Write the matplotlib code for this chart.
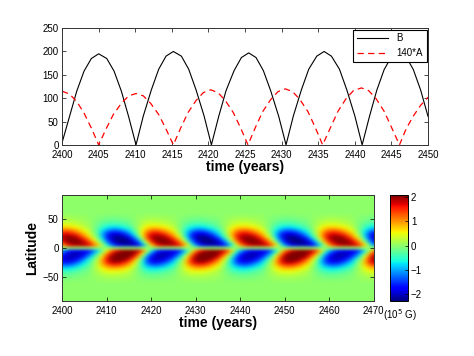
import numpy as np
import matplotlib
matplotlib.use("Agg")
import matplotlib.pyplot as plt

plt.rcParams['font.family'] = ['Liberation Sans', 'DejaVu Sans']

# ---- top panel: B and 140*A against time ----
b_years = [2400.0, 2401.0, 2402.0, 2403.0, 2404.0, 2405.0, 2406.1, 2407.1, 2408.1, 2409.1, 2410.1,
           2411.1, 2412.2, 2413.2, 2414.2, 2415.2, 2416.3, 2417.3, 2418.3, 2419.4, 2420.4,
           2421.4, 2422.4, 2423.5, 2424.5, 2425.5, 2426.5, 2427.5, 2428.5, 2429.6, 2430.6,
           2431.6, 2432.7, 2433.7, 2434.8, 2435.8, 2436.8, 2437.9, 2438.9, 2440.0, 2441.0,
           2442.0, 2443.0, 2444.0, 2445.0, 2446.0, 2447.0, 2448.0, 2449.0, 2450.0]
b_vals = [5, 60, 115, 158, 185, 195, 185, 158, 115, 60, 0,
          62, 118, 162, 190, 200, 190, 162, 118, 62, 0,
          61, 116, 159, 187, 197, 187, 159, 116, 61, 0,
          62, 118, 162, 190, 200, 190, 162, 118, 62, 0,
          61, 117, 161, 189, 199, 189, 161, 117, 61]

a_years = [2400.0, 2401.0, 2402.0, 2403.0, 2404.0, 2405.0,
           2406.0, 2407.0, 2408.1, 2409.1, 2410.1, 2411.1, 2412.1, 2413.2, 2414.2, 2415.2,
           2416.2, 2417.2, 2418.3, 2419.3, 2420.3, 2421.3, 2422.3, 2423.4, 2424.4, 2425.4,
           2426.4, 2427.4, 2428.5, 2429.5, 2430.5, 2431.5, 2432.5, 2433.6, 2434.6, 2435.6,
           2436.7, 2437.7, 2438.8, 2439.8, 2440.9, 2441.9, 2442.9, 2444.0, 2445.0, 2446.1,
           2447.0, 2448.0, 2449.0, 2450.0]
a_vals = [115, 109, 93, 68, 36, 0,
          34, 65, 89, 105, 110, 105, 89, 65, 34, 0,
          36, 69, 95, 112, 118, 112, 95, 69, 36, 0,
          37, 71, 97, 114, 120, 114, 97, 71, 37, 0,
          38, 72, 99, 116, 122, 116, 99, 72, 38, 0,
          34, 62, 85, 102]

# ---- bottom panel: butterfly diagram ----
# one northern wing, normalised
# rows: latitude 0..55 step 5, columns: years from wing centre -7..7
wing_dt = list(range(-7, 8))
wing_lat = list(range(0, 60, 5))
wing_shape = [
    [0.00, 0.00, 0.00, 0.00, 0.00, 0.00, 0.00, 0.00, 0.00, 0.00, 0.00, 0.00, 0.00, 0.00, 0.00],
    [0.00, 0.00, 0.08, 0.25, 0.50, 0.70, 0.82, 0.88, 0.90, 0.88, 0.80, 0.62, 0.38, 0.15, 0.04],
    [0.00, 0.04, 0.18, 0.45, 0.72, 0.90, 0.98, 1.00, 0.97, 0.88, 0.70, 0.45, 0.20, 0.07, 0.00],
    [0.02, 0.10, 0.32, 0.62, 0.85, 0.97, 1.00, 0.98, 0.90, 0.74, 0.50, 0.28, 0.10, 0.03, 0.00],
    [0.05, 0.15, 0.40, 0.68, 0.87, 0.95, 0.94, 0.87, 0.72, 0.52, 0.32, 0.15, 0.05, 0.01, 0.00],
    [0.07, 0.18, 0.40, 0.62, 0.76, 0.80, 0.76, 0.66, 0.52, 0.36, 0.21, 0.10, 0.04, 0.00, 0.00],
    [0.07, 0.16, 0.32, 0.46, 0.55, 0.58, 0.54, 0.46, 0.35, 0.24, 0.14, 0.06, 0.02, 0.00, 0.00],
    [0.06, 0.12, 0.22, 0.30, 0.35, 0.36, 0.33, 0.28, 0.21, 0.14, 0.08, 0.04, 0.01, 0.00, 0.00],
    [0.04, 0.08, 0.14, 0.19, 0.21, 0.21, 0.19, 0.16, 0.12, 0.08, 0.05, 0.02, 0.00, 0.00, 0.00],
    [0.03, 0.05, 0.08, 0.11, 0.12, 0.12, 0.11, 0.09, 0.07, 0.05, 0.03, 0.01, 0.00, 0.00, 0.00],
    [0.01, 0.03, 0.04, 0.06, 0.06, 0.06, 0.06, 0.05, 0.04, 0.03, 0.01, 0.00, 0.00, 0.00, 0.00],
    [0.00, 0.01, 0.02, 0.03, 0.03, 0.03, 0.03, 0.02, 0.02, 0.01, 0.00, 0.00, 0.00, 0.00, 0.00],
]
# centre year and peak field (10^5 G) of each northern wing
wing_year = [2393, 2403, 2414, 2423, 2433, 2443, 2453, 2463, 2473]
wing_amp = [-2.2, 2.05, -2.25, 2.05, -2.25, 2.05, -2.25, 2.05, -2.25]

grid_years = np.arange(2400, 2471)
north = np.zeros((19, len(grid_years)))     # latitudes 0..90
shape = np.array(wing_shape)
for yr, amp in zip(wing_year, wing_amp):
    for k, dt in enumerate(wing_dt):
        col = yr + dt - grid_years[0]
        if 0 <= col < len(grid_years):
            north[:len(wing_lat), col] += amp * shape[:, k]
field = np.vstack([-north[:0:-1], north])   # south is antisymmetric

# ====================================================================
fig = plt.figure(figsize=(4.74, 3.56), dpi=100)

ax1 = fig.add_axes([0.131, 0.593, 0.772, 0.328])
ax1.plot(b_years, b_vals, color='k', lw=0.8, label='B')
ax1.plot(a_years, a_vals, color='r', lw=0.9, dashes=(5, 3.5), label='140*A')
ax1.set_xlim(2400, 2450)
ax1.set_ylim(0, 250)
ax1.set_xticks(np.arange(2400, 2451, 5))
ax1.set_yticks(np.arange(0, 251, 50))
ax1.set_xlabel('time (years)', fontsize=10, fontweight='bold', labelpad=0)
leg = ax1.legend(loc='upper right', fontsize=7, fancybox=False, framealpha=1,
                 edgecolor='k', borderaxespad=0.15, handlelength=3.2)
leg.get_frame().set_linewidth(0.8)

ax2 = fig.add_axes([0.131, 0.155, 0.657, 0.297])
im = ax2.imshow(field, origin='lower', aspect='auto', cmap='jet',
                extent=[2399.5, 2470.5, -92.5, 92.5], vmin=-2.27, vmax=2.07,
                interpolation='bicubic')
ax2.set_xlim(2400, 2470)
ax2.set_ylim(-90, 90)
ax2.set_xticks(np.arange(2400, 2471, 10))
ax2.set_yticks([-50, 0, 50])
ax2.set_xlabel('time (years)', fontsize=10, fontweight='bold', labelpad=0)
ax2.set_ylabel('Latitude', fontsize=10, fontweight='bold', labelpad=2)

cax = fig.add_axes([0.823, 0.155, 0.038, 0.297])
cb = fig.colorbar(im, cax=cax, ticks=[-2, -1, 0, 1, 2])
cb.outline.set_linewidth(0.7)
cax.tick_params(labelsize=7, length=2, width=0.5, direction='in', pad=2)
fig.text(0.808, 0.105, '(10$^5$ G)', fontsize=7)

for ax in (ax1, ax2):
    ax.tick_params(labelsize=7, direction='in', length=3, width=0.5,
                   top=True, right=True)
    ax.tick_params(axis='x', pad=3.5)
    ax.tick_params(axis='y', pad=2.5)
    for s in ax.spines.values():
        s.set_linewidth(0.7)
        s.set_color('#333333')

fig.savefig('out.png', dpi=100)
